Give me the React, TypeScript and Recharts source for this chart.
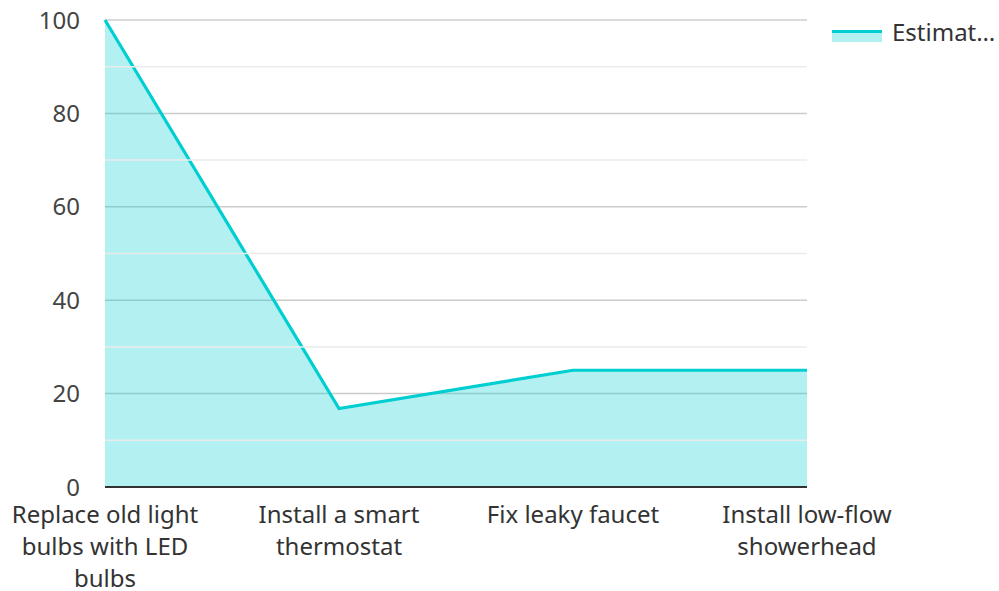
import { ComposedChart, Area, XAxis, YAxis, CartesianGrid, ReferenceLine } from 'recharts';

const categories = [
  'Replace old light bulbs with LED bulbs',
  'Install a smart thermostat',
  'Fix leaky faucet',
  'Install low-flow showerhead',
];
const estimated = [100, 16.8, 25, 25];
const yTicks = [0, 20, 40, 60, 80, 100];
const minorLines = [10, 30, 50, 70, 90];
const seriesName = 'Estimated';

const data = categories.map((c, i) => ({ name: c, value: estimated[i] }));

const FONT = '"Noto Sans", sans-serif';
const FONT_SIZE = 24;
const TEAL = '#00CED1';

let ctx: CanvasRenderingContext2D | null = null;
function measure(s: string) {
  if (!ctx) ctx = document.createElement('canvas').getContext('2d');
  if (!ctx) return s.length * FONT_SIZE * 0.5;
  ctx.font = `${FONT_SIZE}px ${FONT}`;
  return ctx.measureText(s).width;
}

// greedy word wrap, like the original chart does
function wrap(label: string, maxW: number) {
  const lines: string[] = [];
  let cur = '';
  for (const w of label.split(' ')) {
    const next = cur ? cur + ' ' + w : w;
    if (cur && measure(next) > maxW) {
      lines.push(cur);
      cur = w;
    } else cur = next;
  }
  if (cur) lines.push(cur);
  return lines;
}

function XTick({ x, y, payload }: any) {
  const lines = wrap(String(payload.value), 215);
  return (
    <text x={x} y={y} textAnchor="middle" fill="#333" style={{ fontFamily: FONT, fontSize: FONT_SIZE }}>
      {lines.map((l, i) => (
        <tspan key={i} x={x} dy={i === 0 ? '0.71em' : 32}>{l}</tspan>
      ))}
    </text>
  );
}

export default function App() {
  return (
    <div style={{ position: 'absolute', left: 0, top: 0, width: 999, height: 591, background: '#fff', fontFamily: FONT }}>
      <ComposedChart width={999} height={591} data={data}
        margin={{ top: 20, right: 192, bottom: 0, left: 0 }}>
        <CartesianGrid vertical={false} stroke="#cccccc" strokeWidth={1.5} />
        {minorLines.map(v => (
          <ReferenceLine key={v} y={v} stroke="#ebebeb" strokeWidth={1.5} />
        ))}
        <XAxis dataKey="name" interval={0} height={104} tickSize={0} tickMargin={19}
          axisLine={{ stroke: '#333', strokeWidth: 2 }} tickLine={false} tick={<XTick />} />
        <YAxis domain={[0, 100]} ticks={yTicks} width={105} axisLine={false} tickLine={false}
          tickSize={0} tickMargin={25} tick={{ fill: '#444', fontSize: FONT_SIZE, fontFamily: FONT }} />
        <Area type="linear" dataKey="value" name={seriesName} stroke={TEAL} strokeWidth={3.2}
          fill={TEAL} fillOpacity={0.3} dot={false} activeDot={false} isAnimationActive={false} />
      </ComposedChart>
      <div style={{ position: 'absolute', left: 832, top: 15, display: 'flex', alignItems: 'center' }}>
        <div style={{ width: 50, height: 14, position: 'relative', marginTop: 10 }}>
          <div style={{ position: 'absolute', top: 0, left: 0, width: 50, height: 3, background: TEAL }} />
          <div style={{ position: 'absolute', top: 3, left: 0, width: 50, height: 9, background: TEAL, opacity: 0.3 }} />
        </div>
        <span style={{ marginLeft: 10, fontSize: FONT_SIZE, color: '#333', whiteSpace: 'nowrap' }}>Estimat…</span>
      </div>
    </div>
  );
}
